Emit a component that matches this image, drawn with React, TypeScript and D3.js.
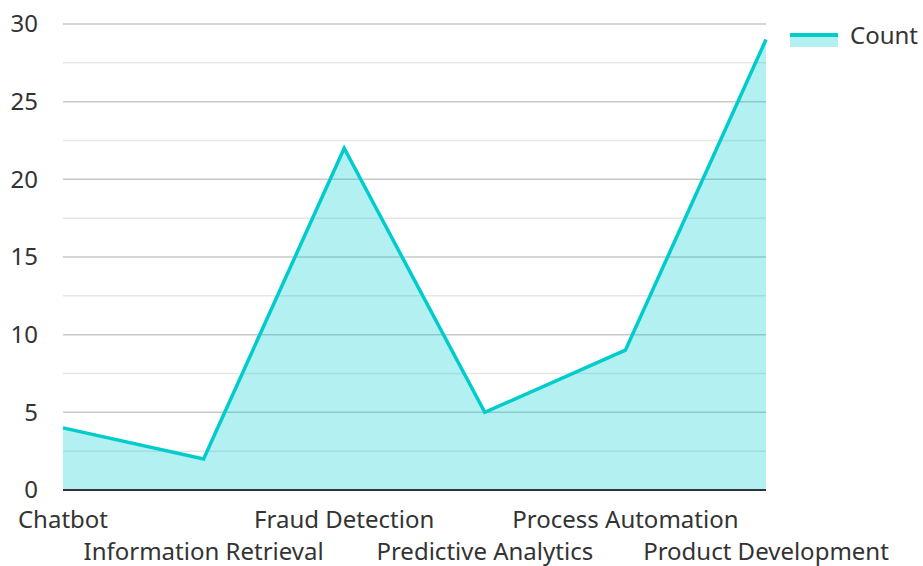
import React, { useEffect, useRef } from "react";
import * as d3 from "d3";

const categories = [
  "Chatbot",
  "Information Retrieval",
  "Fraud Detection",
  "Predictive Analytics",
  "Process Automation",
  "Product Development",
];
const counts = [4, 2, 22, 5, 9, 29];
const yTicks = [0, 5, 10, 15, 20, 25, 30];
const minorTicks = [2.5, 7.5, 12.5, 17.5, 22.5, 27.5];
const seriesName = "Count";

const App: React.FC = () => {
  const svgRef = useRef<SVGSVGElement | null>(null);

  useEffect(() => {
    if (!svgRef.current) return;
    const width = 923;
    const height = 566;
    const margin = { top: 24, right: 157, bottom: 76, left: 63 };
    const font = "'Noto Sans', 'Open Sans', sans-serif";

    const root = d3.select(svgRef.current);
    root.selectAll("*").remove();
    root.attr("width", width).attr("height", height);

    const x = d3
      .scalePoint<string>()
      .domain(categories)
      .range([margin.left, width - margin.right]);
    const y = d3
      .scaleLinear()
      .domain([0, 30])
      .range([height - margin.bottom, margin.top]);

    // minor gridlines
    root
      .append("g")
      .selectAll("line")
      .data(minorTicks)
      .enter()
      .append("line")
      .attr("x1", margin.left)
      .attr("x2", width - margin.right)
      .attr("y1", (d) => y(d))
      .attr("y2", (d) => y(d))
      .attr("stroke", "#e6e6e6")
      .attr("stroke-width", 1.5);

    // major gridlines
    root
      .append("g")
      .selectAll("line")
      .data(yTicks.filter((d) => d > 0))
      .enter()
      .append("line")
      .attr("x1", margin.left)
      .attr("x2", width - margin.right)
      .attr("y1", (d) => y(d))
      .attr("y2", (d) => y(d))
      .attr("stroke", "#c8c8c8")
      .attr("stroke-width", 1.5);

    // y tick labels
    root
      .append("g")
      .selectAll("text")
      .data(yTicks)
      .enter()
      .append("text")
      .attr("x", 38)
      .attr("y", (d) => y(d))
      .attr("dy", "0.35em")
      .attr("text-anchor", "end")
      .style("font-family", font)
      .style("font-size", "24px")
      .attr("fill", "#333")
      .text((d) => d);

    const area = d3
      .area<number>()
      .x((_, i) => x(categories[i])!)
      .y0(y(0))
      .y1((d) => y(d));
    const line = d3
      .line<number>()
      .x((_, i) => x(categories[i])!)
      .y((d) => y(d));

    root
      .append("path")
      .datum(counts)
      .attr("d", area)
      .attr("fill", "rgba(0, 206, 209, 0.3)");

    root
      .append("path")
      .datum(counts)
      .attr("d", line)
      .attr("fill", "none")
      .attr("stroke", "#00cccc")
      .attr("stroke-width", 3.5)
      .attr("stroke-linejoin", "miter");

    // x axis baseline
    root
      .append("line")
      .attr("x1", margin.left)
      .attr("x2", width - margin.right)
      .attr("y1", y(0))
      .attr("y2", y(0))
      .attr("stroke", "#333")
      .attr("stroke-width", 2);

    // x labels, staggered
    root
      .append("g")
      .selectAll("text")
      .data(categories)
      .enter()
      .append("text")
      .attr("x", (d) => x(d)!)
      .attr("y", (_, i) => (i % 2 === 0 ? 528 : 560))
      .attr("text-anchor", "middle")
      .style("font-family", font)
      .style("font-size", "24px")
      .attr("fill", "#333")
      .text((d) => d);

    // legend
    const lg = root.append("g");
    lg.append("rect")
      .attr("x", 790)
      .attr("y", 35)
      .attr("width", 48)
      .attr("height", 12)
      .attr("fill", "rgba(0, 206, 209, 0.3)");
    lg.append("line")
      .attr("x1", 790)
      .attr("x2", 838)
      .attr("y1", 35)
      .attr("y2", 35)
      .attr("stroke", "#00cccc")
      .attr("stroke-width", 4);
    lg.append("text")
      .attr("x", 850)
      .attr("y", 36)
      .attr("dy", "0.35em")
      .style("font-family", font)
      .style("font-size", "24px")
      .attr("fill", "#333")
      .text(seriesName);
  }, []);

  return (
    <div style={{ position: "absolute", left: 0, top: 0 }}>
      <svg ref={svgRef}></svg>
    </div>
  );
};

export default App;
